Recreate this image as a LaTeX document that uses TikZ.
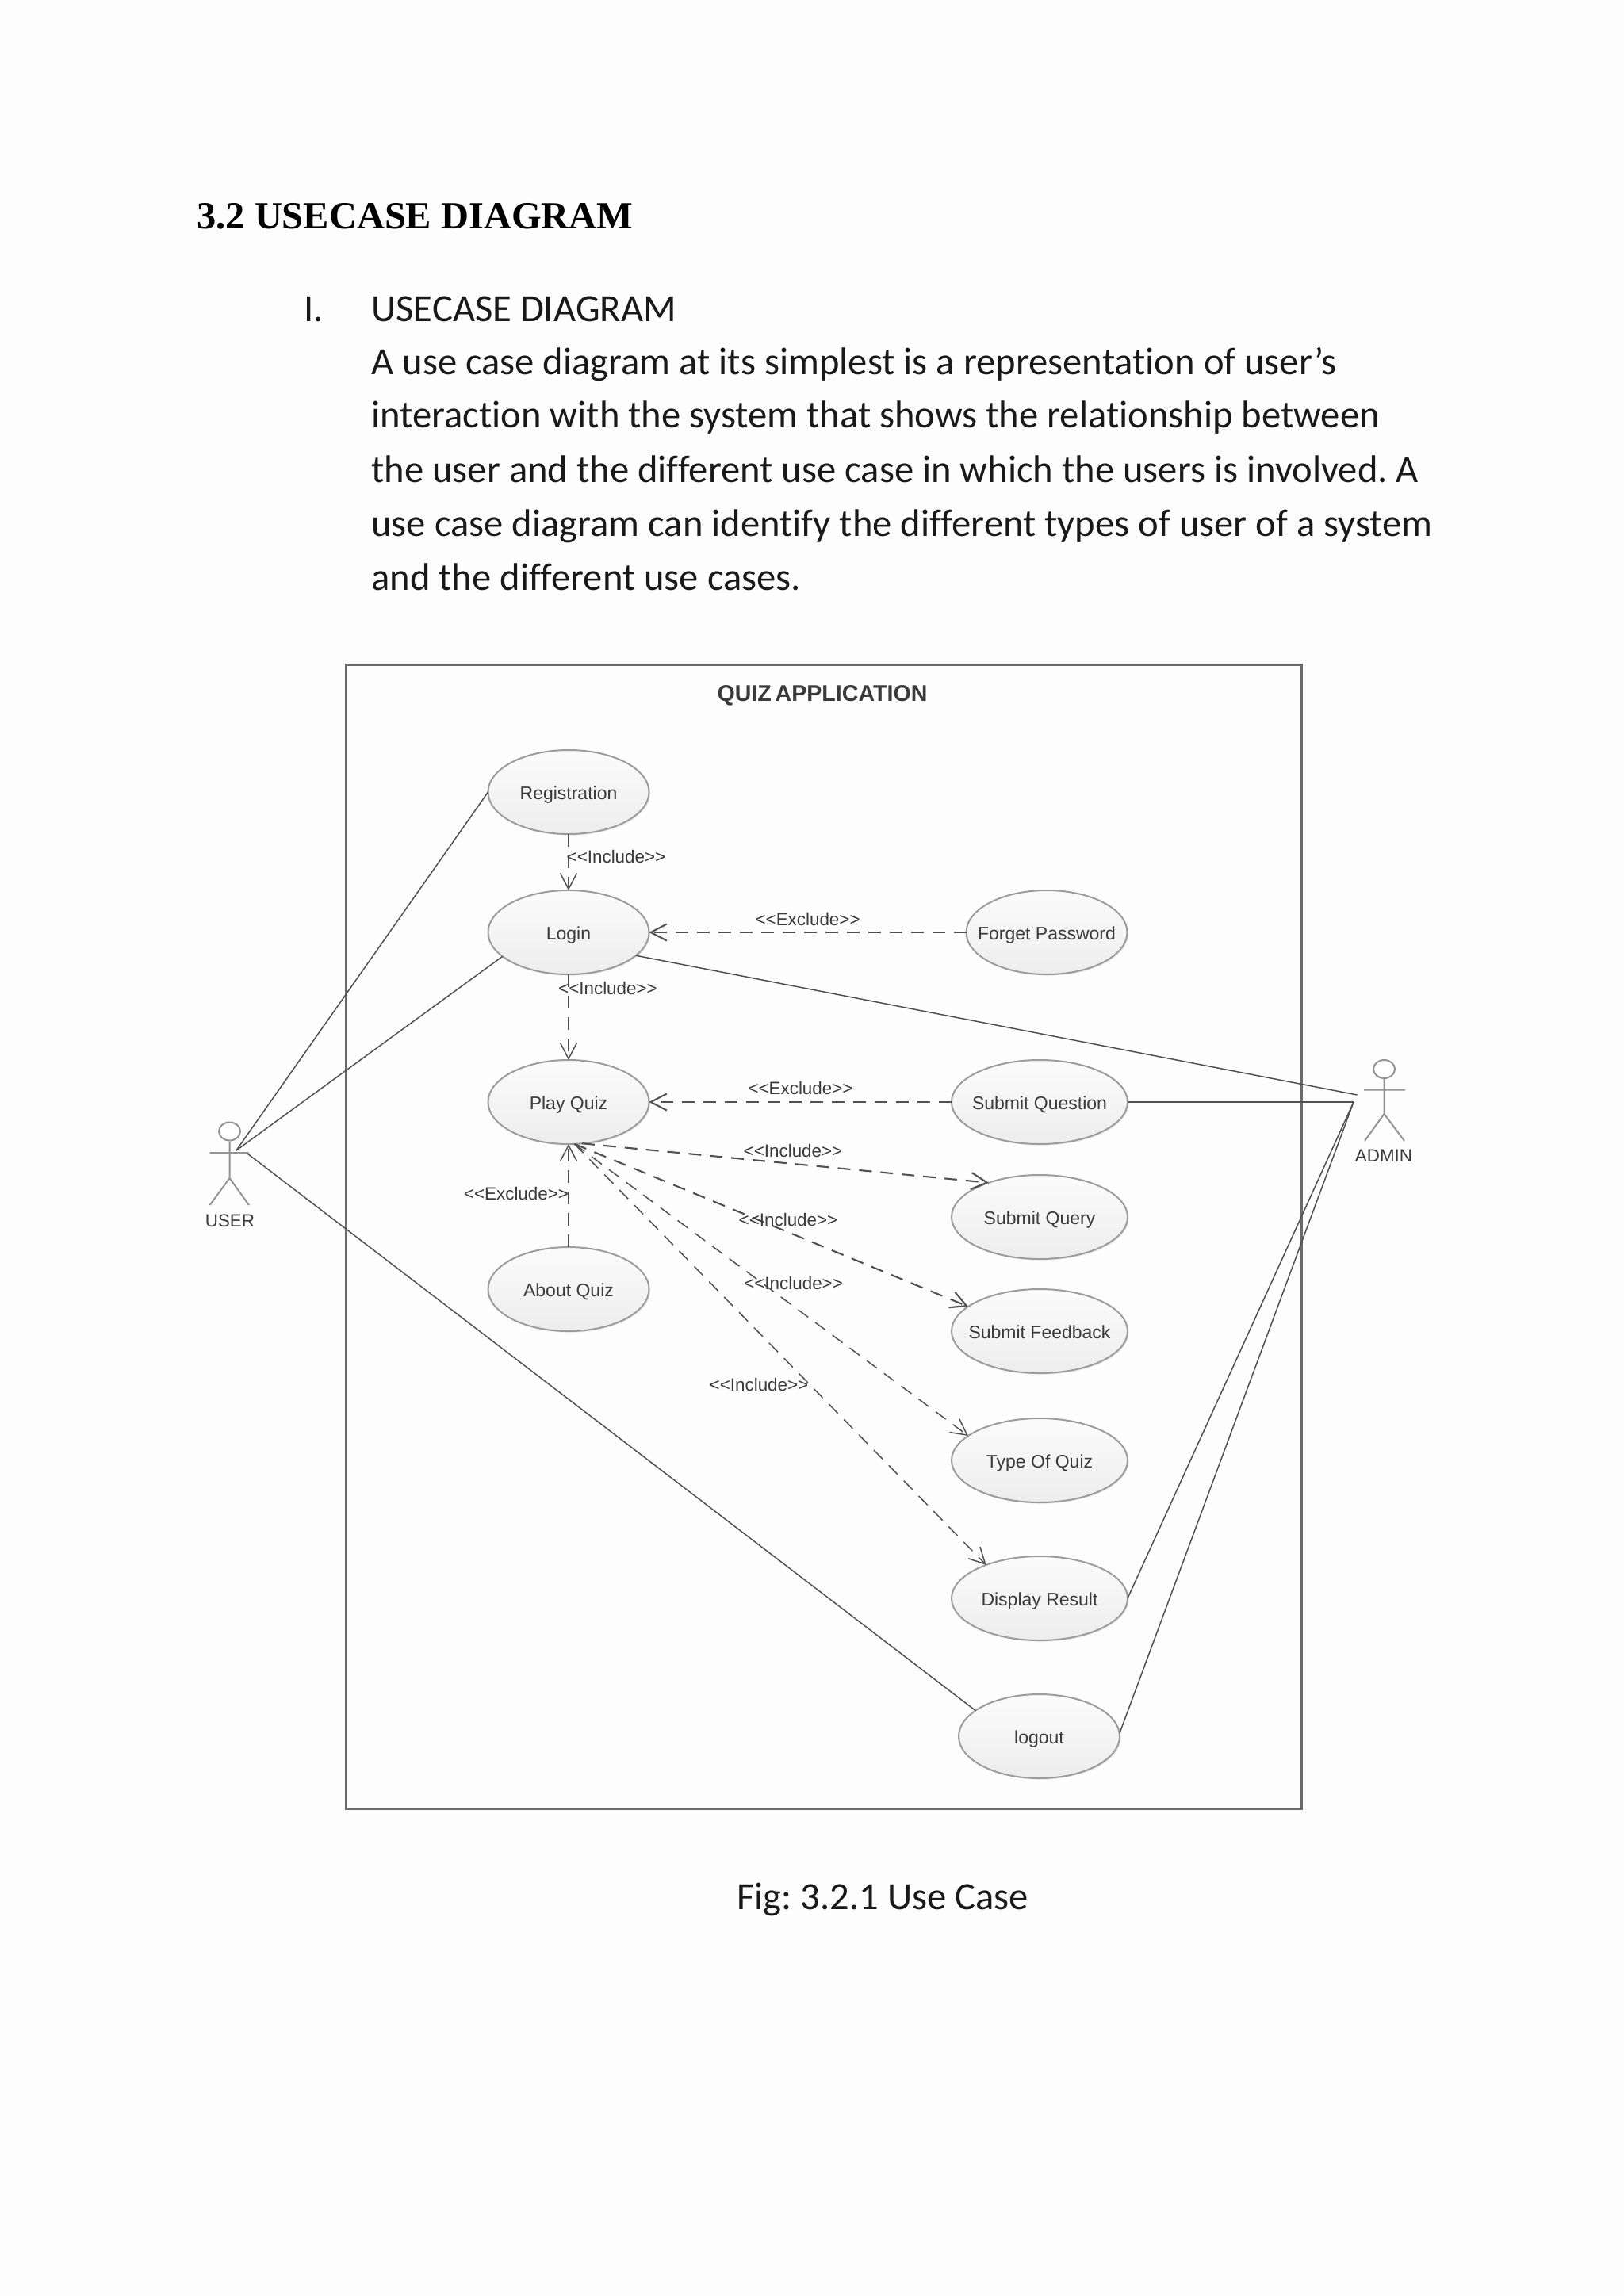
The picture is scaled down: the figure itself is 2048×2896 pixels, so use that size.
\documentclass[tikz,border=0pt]{standalone}
\usepackage{fontspec}
\usetikzlibrary{arrows.meta,shapes.geometric,shadows}
\setmainfont{Carlito}[Ligatures=CommonOff]
\newfontfamily\titlefont{Liberation Serif}
\newfontfamily\diagfont{Liberation Sans}
\definecolor{pagebg}{HTML}{FDFDFD}
\definecolor{framecol}{HTML}{6A6A6A}
\definecolor{linecol}{HTML}{505050}
\definecolor{outlinecol}{HTML}{9C9C9C}
\definecolor{txtcol}{HTML}{3A3A3A}
\frenchspacing
\tikzset{
  usecase/.style={ellipse,draw=outlinecol,line width=1pt,top color=white!97!gray,bottom color=black!7,
    inner xsep=-40pt,inner ysep=0pt,outer sep=0pt,minimum width=101.5pt,minimum height=53pt,text=txtcol,
    text height=9pt,text depth=0pt,
    font=\diagfont\fontsize{11.5pt}{13pt}\selectfont,
    drop shadow={opacity=.18,shadow xshift=.8pt,shadow yshift=-.8pt}},
  widecase/.style={usecase,minimum width=111pt},
  assoc/.style={draw=linecol,line width=.75pt},
  dep/.style={draw=linecol,line width=.75pt,dash pattern=on 8pt off 5.5pt,-{Straight Barb[length=10pt,width=10.5pt]}},
  depheavy/.style={dep,line width=1.05pt},
  stereo/.style={text=txtcol,inner sep=0pt,font=\diagfont\fontsize{11.2pt}{13pt}\selectfont},
  actorline/.style={draw=gray!85,line width=1pt},
  actorhead/.style={ellipse,draw=gray!85,line width=1pt,fill=white,inner sep=0pt,minimum width=13.5pt,minimum height=11.5pt},
  actorname/.style={text=txtcol,inner sep=0pt,font=\diagfont\fontsize{11.2pt}{13pt}\selectfont},
  bodyline/.style={anchor=base west,inner sep=0pt,text=black!90,font=\fontsize{24.3pt}{28pt}\selectfont},
  boundary/.style={rectangle,draw=framecol,line width=1.5pt,inner sep=0pt,minimum width=602.5pt,minimum height=721.5pt}
}
\begin{document}
\begin{tikzpicture}[x=0.5pt,y=-0.5pt]
\useasboundingbox (0,0) rectangle (2048,2896);
\fill[pagebg] (0,0) rectangle (2048,2896);
% page text
\node[anchor=base west,inner sep=0pt,font=\titlefont\bfseries\fontsize{24.2pt}{28pt}\selectfont] (heading) at (248,288.5) {3.2 USECASE DIAGRAM};
\node[bodyline] (roman) at (383,405) {I.};
\node[bodyline] (l1) at (468,405) {USECASE DIAGRAM};
\node[bodyline] (l2) at (468,472) {A use case diagram at its simplest is a representation of user’s};
\node[bodyline] (l3) at (468,539.5) {interaction with the system that shows the relationship between};
\node[bodyline] (l4) at (468,608.5) {the user and the different use case in which the users is involved. A};
\node[bodyline] (l5) at (468,676.5) {use case diagram can identify the different types of user of a system};
\node[bodyline] (l6) at (468,744) {and the different use cases.};
\node[bodyline] (caption) at (929,2408) {Fig: 3.2.1 Use Case};
% boundary
\node[boundary] (frame) at (1038.5,1559.5) {};
\node[inner sep=0pt,text=txtcol,font=\diagfont\bfseries\fontsize{14.3pt}{16pt}\selectfont] (systitle) at (1037,877) {QUIZ\,APPLICATION};
% use cases
\node[usecase] (reg) at (717,999) {Registration};
\node[usecase] (login) at (717,1176) {Login};
\node[usecase] (forget) at (1320,1176) {Forget Password};
\node[usecase] (play) at (717,1390) {Play Quiz};
\node[widecase] (subq) at (1311,1390) {Submit Question};
\node[usecase] (about) at (717,1626) {About Quiz};
\node[widecase] (query) at (1311,1535) {Submit Query};
\node[widecase] (feed) at (1311,1679) {Submit Feedback};
\node[widecase] (type) at (1311,1842) {Type Of Quiz};
\node[widecase] (disp) at (1311,2016) {Display Result};
\node[usecase] (logout) at (1310.5,2190) {logout};
% actors
\node[actorhead] (userhead) at (289.5,1427) {};
\coordinate (userarmL) at (264.6,1454);
\coordinate (userarmR) at (313.7,1454);
\coordinate (userhip) at (289.5,1486);
\coordinate (userfootL) at (264.6,1520);
\coordinate (userfootR) at (314,1520);
\coordinate (userend) at (298,1451);
\coordinate (userendlow) at (312,1455);
\draw[actorline] (userhead.south) -- (userhip) -- (userfootL) (userhip) -- (userfootR) (userarmL) -- (userarmR);
\node[actorname] (username) at (290,1540) {USER};
\node[actorhead] (adminhead) at (1745.5,1348.5) {};
\coordinate (adminarmL) at (1720,1374.6);
\coordinate (adminarmR) at (1772,1374.6);
\coordinate (adminhip) at (1745.5,1405);
\coordinate (adminfootL) at (1721,1439);
\coordinate (adminfootR) at (1771,1439);
\coordinate (adminend) at (1711.5,1381);
\coordinate (adminendlow) at (1707,1390);
\draw[actorline] (adminhead.south) -- (adminhip) -- (adminfootL) (adminhip) -- (adminfootR) (adminarmL) -- (adminarmR);
\node[actorname] (adminname) at (1745,1458) {ADMIN};
% associations
\draw[assoc] (reg.180) -- (userend);
\draw[assoc] (login.200.8) -- (userend);
\draw[assoc] (logout.158.8) -- (userendlow);
\draw[assoc] (login.-19.4) -- (adminend);
\draw[assoc] (subq.0) -- (adminendlow);
\draw[assoc] (disp.0) -- (adminendlow);
\draw[assoc] (logout.2) -- (adminendlow);
% dependencies
\draw[dep] (reg.south) -- (login.north);
\draw[dep] (login.south) -- (play.north);
\draw[depheavy] (forget.west) -- (login.east);
\draw[depheavy] (subq.west) -- (play.east);
\draw[dep] (about.north) -- (play.south);
\draw[depheavy] (play.-72) -- (query.146.9);
\draw[depheavy] (play.-82) -- (feed.161.4);
\draw[dep] (play.-82) -- (type.161.4);
\draw[dep] (play.-82) -- (disp.148.7);
% stereotypes
\node[stereo] (s1) at (777,1080) {<{}<Include>{}>};
\node[stereo] (s2) at (1018.6,1159.3) {<{}<Exclude>{}>};
\node[stereo] (s3) at (766.5,1246) {<{}<Include>{}>};
\node[stereo] (s4) at (1009.5,1372) {<{}<Exclude>{}>};
\node[stereo] (s5) at (1000,1451) {<{}<Include>{}>};
\node[stereo] (s6) at (651,1505.5) {<{}<Exclude>{}>};
\node[stereo] (s7) at (994,1538) {<{}<Include>{}>};
\node[stereo] (s8) at (1000.6,1618.4) {<{}<Include>{}>};
\node[stereo] (s9) at (957,1746.6) {<{}<Include>{}>};
\end{tikzpicture}
\end{document}
